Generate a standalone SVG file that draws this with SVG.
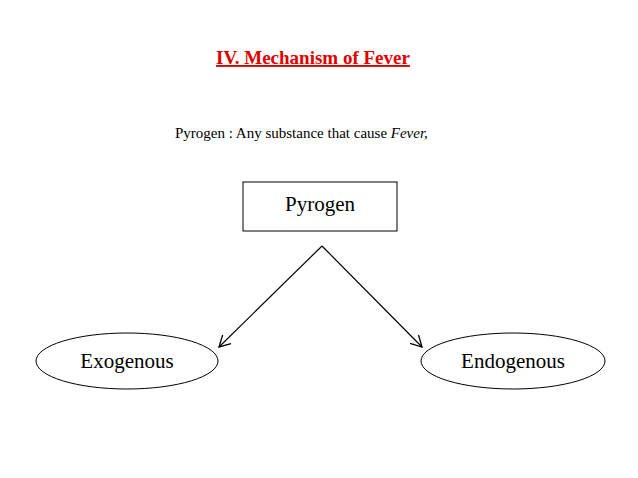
<svg xmlns="http://www.w3.org/2000/svg" width="638" height="478" viewBox="0 0 638 478">
<defs><marker id="a" markerWidth="14" markerHeight="14" refX="12" refY="7" orient="auto" markerUnits="userSpaceOnUse"><path d="M1,1 L12,7 L1,13" fill="none" stroke="#000" stroke-width="1.3"/></marker></defs>
<style>.t{font-family:"Liberation Serif",serif;fill:#000}.s{fill:#fff;stroke:#000;stroke-width:1}</style>
<rect width="638" height="478" fill="#fff"/>
<text x="313" y="64" text-anchor="middle" class="t" style="fill:#e00000;font-weight:bold;font-size:19px;text-decoration:underline">IV. Mechanism of Fever</text>
<text x="175" y="138" class="t" font-size="15">Pyrogen : Any substance that cause <tspan font-style="italic">Fever,</tspan></text>
<g id="pyrogen"><rect x="243" y="182" width="154" height="49" class="s"/><text x="320" y="211" text-anchor="middle" class="t" font-size="21">Pyrogen</text></g>
<g id="exo"><ellipse cx="127" cy="361" rx="91" ry="28" class="s"/><text x="127" y="368" text-anchor="middle" class="t" font-size="21">Exogenous</text></g>
<g id="endo"><ellipse cx="513" cy="361" rx="92" ry="28" class="s"/><text x="513" y="368" text-anchor="middle" class="t" font-size="21">Endogenous</text></g>
<g id="connectors" stroke="#000" stroke-width="1.2" fill="none"><line x1="322" y1="246" x2="219" y2="347" marker-end="url(#a)"/><line x1="322" y1="246" x2="422" y2="347" marker-end="url(#a)"/></g>
</svg>
